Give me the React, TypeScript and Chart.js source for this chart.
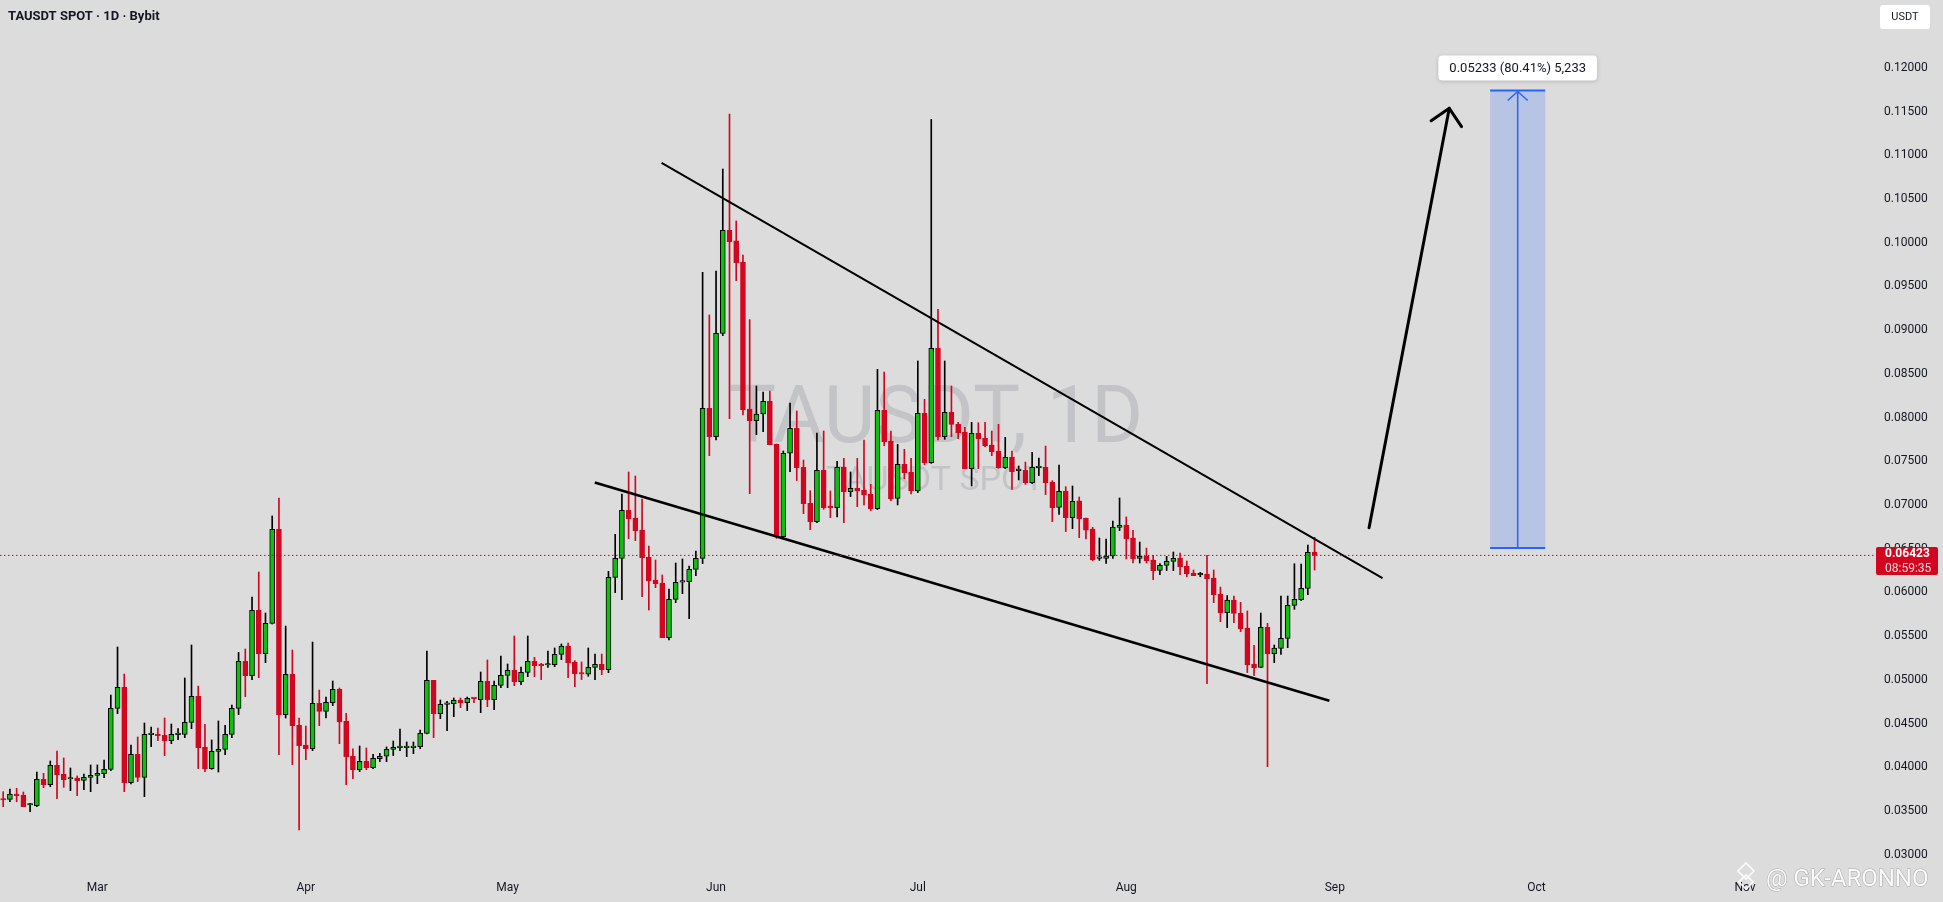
import React, { useEffect, useRef } from 'react';
import { Chart, registerables } from 'chart.js';

Chart.register(...registerables);

const W = 1943;
const H = 902;
const BG = '#dcdcdc';
const GREEN = '#0fbf0f';
const RED = '#d2061e';
const TEXT = '#131722';

// Daily candles, index 0 = Feb 15
const opens = [
  0.03633, 0.03633, 0.03690, 0.03682, 0.03568, 0.03560, 0.03861, 0.03800, 0.04022, 0.03919,
  0.03865, 0.03877, 0.03850, 0.03884, 0.03907, 0.03926, 0.03976, 0.04674, 0.04914, 0.03823,
  0.04147, 0.03884, 0.04372, 0.04380, 0.04365, 0.04303, 0.04372, 0.04376, 0.04513, 0.04811,
  0.04228, 0.03984, 0.04182, 0.04205, 0.04376, 0.04674, 0.05211, 0.05047, 0.05795, 0.05299,
  0.05646, 0.06721, 0.04601, 0.05063, 0.04479, 0.04250, 0.04212, 0.04731, 0.04639, 0.04738,
  0.04891, 0.04525, 0.04125, 0.03972, 0.04067, 0.03995, 0.04098, 0.04125, 0.04205, 0.04224,
  0.04224, 0.04224, 0.04235, 0.04388, 0.04994, 0.04613, 0.04719, 0.04727, 0.04769, 0.04738,
  0.04788, 0.04773, 0.04982, 0.04773, 0.04937, 0.05051, 0.05108, 0.04979, 0.05085, 0.05211,
  0.05169, 0.05169, 0.05173, 0.05291, 0.05387, 0.05204, 0.05074, 0.05063, 0.05143, 0.05177,
  0.05116, 0.06172, 0.06389, 0.06939, 0.06851, 0.06714, 0.06404, 0.06141, 0.06107, 0.05482,
  0.05920, 0.06118, 0.06122, 0.06263, 0.06389, 0.08105, 0.07781, 0.08963, 0.10141, 0.10020,
  0.09779, 0.08098, 0.07964, 0.08040, 0.08185, 0.07697, 0.06637, 0.07591, 0.07876, 0.07431,
  0.07019, 0.06809, 0.07396, 0.06973, 0.06969, 0.07431, 0.07152, 0.07190, 0.07167, 0.07122,
  0.06958, 0.08082, 0.07731, 0.07076, 0.07465, 0.07373, 0.07160, 0.08048, 0.07484, 0.08792,
  0.07781, 0.08059, 0.07922, 0.07834, 0.07415, 0.07819, 0.07762, 0.07686, 0.07617, 0.07427,
  0.07545, 0.07392, 0.07396, 0.07255, 0.07427, 0.07431, 0.07263, 0.06973, 0.07160, 0.06855,
  0.07046, 0.06851, 0.06725, 0.06389, 0.06389, 0.06416, 0.06744, 0.06771, 0.06622, 0.06389,
  0.06416, 0.06370, 0.06252, 0.06309, 0.06355, 0.06393, 0.06302, 0.06221, 0.06202, 0.06210,
  0.06164, 0.05981, 0.05768, 0.05913, 0.05764, 0.05593, 0.05181, 0.05143, 0.05600, 0.05299,
  0.05360, 0.05474, 0.05852, 0.05917, 0.06046, 0.06462,
];

const highs = [
  0.03720, 0.03751, 0.03759, 0.03717, 0.03587, 0.03945, 0.03930, 0.04071, 0.04186, 0.04106,
  0.03991, 0.03900, 0.03922, 0.04026, 0.04026, 0.04083, 0.04826, 0.05375, 0.05066, 0.04254,
  0.04346, 0.04506, 0.04460, 0.04449, 0.04563, 0.04494, 0.04441, 0.05021, 0.05398, 0.04928,
  0.04491, 0.04312, 0.04529, 0.04479, 0.04712, 0.05314, 0.05352, 0.05947, 0.06233, 0.05764,
  0.06874, 0.07080, 0.05615, 0.05341, 0.04563, 0.04471, 0.05432, 0.04883, 0.04803, 0.04986,
  0.04906, 0.04616, 0.04209, 0.04243, 0.04220, 0.04148, 0.04159, 0.04232, 0.04300, 0.04437,
  0.04289, 0.04289, 0.04426, 0.05329, 0.04994, 0.04769, 0.04754, 0.04792, 0.04792, 0.04803,
  0.04788, 0.05089, 0.05227, 0.04986, 0.05272, 0.05181, 0.05501, 0.05146, 0.05501, 0.05257,
  0.05188, 0.05329, 0.05364, 0.05410, 0.05421, 0.05219, 0.05204, 0.05364, 0.05295, 0.05295,
  0.06241, 0.06664, 0.07125, 0.07377, 0.07331, 0.07068, 0.06530, 0.06370, 0.06199, 0.06039,
  0.06336, 0.06382, 0.06301, 0.06473, 0.09661, 0.09173, 0.09676, 0.10843, 0.11472, 0.10249,
  0.09859, 0.09120, 0.08361, 0.08292, 0.08304, 0.07697, 0.07617, 0.08166, 0.08075, 0.07514,
  0.07163, 0.07823, 0.07846, 0.07160, 0.07499, 0.07533, 0.07377, 0.07533, 0.07743, 0.07236,
  0.08551, 0.08521, 0.07846, 0.07693, 0.07636, 0.07533, 0.08647, 0.08208, 0.11411, 0.09238,
  0.08647, 0.08361, 0.07945, 0.07888, 0.07945, 0.07941, 0.07945, 0.07846, 0.07922, 0.07774,
  0.07617, 0.07446, 0.07491, 0.07602, 0.07537, 0.07674, 0.07278, 0.07457, 0.07209, 0.07217,
  0.07091, 0.06851, 0.06744, 0.06622, 0.06611, 0.06817, 0.07080, 0.06863, 0.06710, 0.06576,
  0.06507, 0.06423, 0.06328, 0.06412, 0.06462, 0.06450, 0.06359, 0.06256, 0.06229, 0.06423,
  0.06256, 0.06061, 0.05962, 0.05958, 0.05886, 0.05787, 0.05394, 0.05764, 0.05646, 0.05398,
  0.05958, 0.05958, 0.06328, 0.06325, 0.06542, 0.06630,
];

const lows = [
  0.03549, 0.03606, 0.03606, 0.03549, 0.03492, 0.03549, 0.03766, 0.03777, 0.03640, 0.03770,
  0.03732, 0.03675, 0.03743, 0.03720, 0.03812, 0.03880, 0.03961, 0.04613, 0.03720, 0.03808,
  0.03835, 0.03663, 0.04235, 0.04303, 0.04132, 0.04269, 0.04315, 0.04338, 0.04441, 0.03984,
  0.03949, 0.03976, 0.03945, 0.04143, 0.04338, 0.04601, 0.04807, 0.05001, 0.05024, 0.05196,
  0.05638, 0.04143, 0.04563, 0.04029, 0.03282, 0.04086, 0.04190, 0.04475, 0.04563, 0.04704,
  0.04269, 0.03800, 0.03869, 0.03949, 0.03972, 0.03984, 0.04064, 0.04064, 0.04133, 0.04190,
  0.04121, 0.04155, 0.04212, 0.04380, 0.04338, 0.04555, 0.04418, 0.04578, 0.04681, 0.04647,
  0.04738, 0.04624, 0.04692, 0.04658, 0.04910, 0.04910, 0.04933, 0.04944, 0.05036, 0.05036,
  0.05002, 0.05143, 0.05150, 0.05230, 0.05024, 0.04921, 0.05002, 0.05040, 0.05002, 0.05059,
  0.05082, 0.05997, 0.05917, 0.06614, 0.06592, 0.05951, 0.05798, 0.06054, 0.05482, 0.05455,
  0.05882, 0.05985, 0.05699, 0.06191, 0.06328, 0.07564, 0.07743, 0.08937, 0.07987, 0.09566,
  0.08029, 0.07129, 0.07804, 0.07838, 0.07689, 0.06618, 0.06618, 0.07381, 0.07279, 0.06900,
  0.06718, 0.06798, 0.06950, 0.06855, 0.06863, 0.06798, 0.07095, 0.06981, 0.07000, 0.06935,
  0.06946, 0.07678, 0.07049, 0.07000, 0.07300, 0.07125, 0.07141, 0.07461, 0.07476, 0.07743,
  0.07751, 0.07781, 0.07758, 0.07415, 0.07217, 0.07415, 0.07667, 0.07564, 0.07419, 0.07415,
  0.07179, 0.07286, 0.07236, 0.07243, 0.07335, 0.07118, 0.06809, 0.06893, 0.06695, 0.06729,
  0.06626, 0.06611, 0.06363, 0.06366, 0.06332, 0.06389, 0.06706, 0.06382, 0.06336, 0.06336,
  0.06336, 0.06145, 0.06202, 0.06248, 0.06248, 0.06202, 0.06179, 0.06191, 0.06179, 0.04956,
  0.05882, 0.05665, 0.05596, 0.05653, 0.05550, 0.05082, 0.05047, 0.05139, 0.04006, 0.05196,
  0.05291, 0.05368, 0.05806, 0.05905, 0.05974, 0.06256,
];

const closes = [
  0.03625, 0.03694, 0.03675, 0.03549, 0.03576, 0.03861, 0.03800, 0.04022, 0.03915, 0.03858,
  0.03873, 0.03846, 0.03884, 0.03907, 0.03930, 0.03976, 0.04674, 0.04914, 0.03823, 0.04147,
  0.03884, 0.04376, 0.04380, 0.04361, 0.04303, 0.04376, 0.04380, 0.04513, 0.04811, 0.04224,
  0.03984, 0.04182, 0.04205, 0.04376, 0.04674, 0.05211, 0.05047, 0.05795, 0.05299, 0.05646,
  0.06721, 0.04601, 0.05063, 0.04475, 0.04246, 0.04212, 0.04731, 0.04639, 0.04742, 0.04891,
  0.04517, 0.04121, 0.03972, 0.04067, 0.03995, 0.04102, 0.04125, 0.04205, 0.04228, 0.04232,
  0.04232, 0.04239, 0.04388, 0.04994, 0.04613, 0.04719, 0.04727, 0.04765, 0.04738, 0.04788,
  0.04784, 0.04982, 0.04773, 0.04937, 0.05051, 0.05108, 0.04979, 0.05085, 0.05211, 0.05162,
  0.05162, 0.05177, 0.05291, 0.05387, 0.05196, 0.05070, 0.05066, 0.05143, 0.05177, 0.05116,
  0.06172, 0.06389, 0.06939, 0.06843, 0.06706, 0.06397, 0.06134, 0.06099, 0.05482, 0.05920,
  0.06115, 0.06126, 0.06263, 0.06389, 0.08105, 0.07781, 0.08963, 0.10141, 0.10012, 0.09772,
  0.08086, 0.07964, 0.08040, 0.08185, 0.07689, 0.06633, 0.07591, 0.07876, 0.07427, 0.07015,
  0.06809, 0.07396, 0.06969, 0.06969, 0.07431, 0.07152, 0.07190, 0.07160, 0.07114, 0.06958,
  0.08082, 0.07724, 0.07068, 0.07465, 0.07369, 0.07160, 0.08048, 0.07484, 0.08792, 0.07781,
  0.08059, 0.07922, 0.07827, 0.07415, 0.07819, 0.07758, 0.07674, 0.07610, 0.07427, 0.07545,
  0.07381, 0.07400, 0.07255, 0.07431, 0.07434, 0.07255, 0.06969, 0.07156, 0.06855, 0.07042,
  0.06843, 0.06713, 0.06370, 0.06393, 0.06416, 0.06748, 0.06771, 0.06614, 0.06386, 0.06416,
  0.06363, 0.06248, 0.06309, 0.06355, 0.06389, 0.06294, 0.06214, 0.06191, 0.06210, 0.06157,
  0.05974, 0.05768, 0.05913, 0.05760, 0.05585, 0.05169, 0.05139, 0.05600, 0.05295, 0.05364,
  0.05474, 0.05852, 0.05921, 0.06046, 0.06458, 0.06423,
];

// Time axis: month starts (day index from Feb 15)
const monthTickIdx = [14, 45, 75, 106, 136, 167, 198, 228, 259];
const monthTickLabels = ['Mar', 'Apr', 'May', 'Jun', 'Jul', 'Aug', 'Sep', 'Oct', 'Nov'];

// Price axis ticks
const priceTicks = [
  0.03, 0.035, 0.04, 0.045, 0.05, 0.055, 0.06, 0.065, 0.07, 0.075,
  0.08, 0.085, 0.09, 0.095, 0.1, 0.105, 0.11, 0.115, 0.12,
];

// Drawings (day index, price)
const upperTrend = [{ x: 97.9, y: 0.10912 }, { x: 205.1, y: 0.06163 }];
const lowerTrend = [{ x: 87.97, y: 0.07258 }, { x: 197.2, y: 0.0476 }];
const arrowLine = [{ x: 203.1, y: 0.06739 }, { x: 215.03, y: 0.11537 }];
const posX = [221.1, 229.3];
const posPrices = [0.06508, 0.11741];
const posLabel = '0.05233 (80.41%) 5,233';
const lastPrice = 0.06423;
const countdown = '08:59:35';

const X_MIN = -0.476;
const X_MAX = 278.63;
const Y_MIN = 0.028014;
const Y_MAX = 0.127762;

function rr(ctx: CanvasRenderingContext2D, x: number, y: number, w: number, h: number, r: number) {
  ctx.beginPath();
  ctx.moveTo(x + r, y);
  ctx.lineTo(x + w - r, y);
  ctx.quadraticCurveTo(x + w, y, x + w, y + r);
  ctx.lineTo(x + w, y + h - r);
  ctx.quadraticCurveTo(x + w, y + h, x + w - r, y + h);
  ctx.lineTo(x + r, y + h);
  ctx.quadraticCurveTo(x, y + h, x, y + h - r);
  ctx.lineTo(x, y + r);
  ctx.quadraticCurveTo(x, y, x + r, y);
  ctx.closePath();
}

const overlay = {
  id: 'overlay',
  beforeDraw(chart: any) {
    const ctx = chart.ctx as CanvasRenderingContext2D;
    ctx.save();
    ctx.fillStyle = BG;
    ctx.fillRect(0, 0, chart.width, chart.height);
    ctx.restore();
  },
  beforeDatasetsDraw(chart: any) {
    const ctx = chart.ctx as CanvasRenderingContext2D;
    ctx.save();
    ctx.fillStyle = 'rgba(120,123,134,0.25)';
    ctx.textAlign = 'center';
    ctx.textBaseline = 'alphabetic';
    ctx.font = '79px Roboto';
    ctx.fillText('TAUSDT, 1D', 936, 442);
    ctx.font = '34px Roboto';
    ctx.fillText('TAUSDT SPOT', 935, 490);
    ctx.restore();
  },
  afterDatasetsDraw(chart: any) {
    const ctx = chart.ctx as CanvasRenderingContext2D;
    const xs = chart.scales.x;
    const ys = chart.scales.y;
    ctx.save();
    // arrow head of the black arrow
    const tx = xs.getPixelForValue(arrowLine[1].x);
    const ty = ys.getPixelForValue(arrowLine[1].y);
    const sx = xs.getPixelForValue(arrowLine[0].x);
    const sy = ys.getPixelForValue(arrowLine[0].y);
    const ang = Math.atan2(sy - ty, sx - tx);
    const len = 22;
    const spread = 0.78;
    ctx.strokeStyle = '#000';
    ctx.lineWidth = 3;
    ctx.lineCap = 'round';
    ctx.lineJoin = 'round';
    ctx.beginPath();
    ctx.moveTo(tx + len * Math.cos(ang + spread), ty + len * Math.sin(ang + spread));
    ctx.lineTo(tx, ty);
    ctx.lineTo(tx + len * Math.cos(ang - spread), ty + len * Math.sin(ang - spread));
    ctx.stroke();

    // long position tool
    const x1 = xs.getPixelForValue(posX[0]);
    const x2 = xs.getPixelForValue(posX[1]);
    const yb = ys.getPixelForValue(posPrices[0]);
    const yt = ys.getPixelForValue(posPrices[1]);
    ctx.fillStyle = 'rgba(41,98,255,0.2)';
    ctx.fillRect(x1, yt, x2 - x1, yb - yt);
    ctx.strokeStyle = '#2962ff';
    ctx.lineCap = 'butt';
    ctx.lineWidth = 2;
    ctx.beginPath();
    ctx.moveTo(x1, yt);
    ctx.lineTo(x2, yt);
    ctx.moveTo(x1, yb);
    ctx.lineTo(x2, yb);
    ctx.stroke();
    const xc = (x1 + x2) / 2;
    ctx.lineWidth = 1.5;
    ctx.beginPath();
    ctx.moveTo(xc, yb);
    ctx.lineTo(xc, yt + 1);
    ctx.moveTo(xc - 10, yt + 10);
    ctx.lineTo(xc, yt + 1);
    ctx.lineTo(xc + 10, yt + 10);
    ctx.stroke();

    // label
    ctx.font = '13px Roboto';
    const tw = ctx.measureText(posLabel).width;
    const bw = tw + 22;
    const bh = 25;
    const by = yt - 35;
    ctx.shadowColor = 'rgba(0,0,0,0.18)';
    ctx.shadowBlur = 4;
    ctx.shadowOffsetY = 1;
    ctx.fillStyle = '#ffffff';
    rr(ctx, xc - bw / 2, by, bw, bh, 4);
    ctx.fill();
    ctx.shadowColor = 'transparent';
    ctx.fillStyle = TEXT;
    ctx.textAlign = 'center';
    ctx.textBaseline = 'middle';
    ctx.fillText(posLabel, xc, by + bh / 2 + 0.5);
    ctx.restore();
  },
  afterDraw(chart: any) {
    const ctx = chart.ctx as CanvasRenderingContext2D;
    const ys = chart.scales.y;
    const area = chart.chartArea;
    ctx.save();
    // last price label
    const py = ys.getPixelForValue(lastPrice);
    ctx.fillStyle = RED;
    rr(ctx, area.right - 1, py - 8.5, 62, 28, 2);
    ctx.fill();
    ctx.textAlign = 'left';
    ctx.textBaseline = 'middle';
    ctx.fillStyle = '#ffffff';
    ctx.font = 'bold 12px Roboto';
    ctx.fillText(lastPrice.toFixed(5), area.right + 8, py - 1);
    ctx.fillStyle = 'rgba(255,255,255,0.85)';
    ctx.font = '12px Roboto';
    ctx.fillText(countdown, area.right + 8, py + 13.5);

    // currency box
    ctx.fillStyle = '#ffffff';
    rr(ctx, 1880, 5, 50, 24, 3);
    ctx.fill();
    ctx.fillStyle = TEXT;
    ctx.font = '11px Roboto';
    ctx.textAlign = 'center';
    ctx.fillText('USDT', 1905, 17.5);

    // header
    ctx.textAlign = 'left';
    ctx.font = 'bold 13px Roboto';
    ctx.fillStyle = TEXT;
    ctx.fillText('TAUSDT SPOT \u00b7 1D \u00b7 Bybit', 8, 17);

    // author watermark
    ctx.strokeStyle = 'rgba(255,255,255,0.9)';
    ctx.lineWidth = 1.6;
    const lx = 1746;
    const ly = 877;
    ctx.beginPath();
    ctx.moveTo(lx, ly - 14);
    ctx.lineTo(lx + 8, ly - 6);
    ctx.lineTo(lx, ly + 2);
    ctx.lineTo(lx - 8, ly - 6);
    ctx.closePath();
    ctx.moveTo(lx, ly - 2);
    ctx.lineTo(lx + 7, ly + 5);
    ctx.lineTo(lx, ly + 12);
    ctx.lineTo(lx - 7, ly + 5);
    ctx.closePath();
    ctx.stroke();
    ctx.font = '24px Roboto';
    ctx.textBaseline = 'alphabetic';
    ctx.fillStyle = 'rgba(255,255,255,0.92)';
    ctx.strokeStyle = 'rgba(130,130,130,0.55)';
    ctx.lineWidth = 1;
    ctx.strokeText('@ GK-ARONNO', 1766, 886);
    ctx.fillText('@ GK-ARONNO', 1766, 886);
    ctx.restore();
  },
};

export default function App() {
  const ref = useRef<HTMLCanvasElement | null>(null);

  useEffect(() => {
    const canvas = ref.current;
    if (!canvas) return;
    const idx = opens.map((_, i) => i);
    const up = idx.map((i) => closes[i] >= opens[i]);

    const chart = new Chart(canvas, {
      type: 'bar',
      data: {
        datasets: [
          {
            type: 'line',
            data: [{ x: X_MIN, y: lastPrice }, { x: X_MAX, y: lastPrice }],
            borderColor: RED,
            borderWidth: 1,
            borderDash: [1.5, 2.5],
            pointRadius: 0,
            fill: false,
            order: -3,
          } as any,
          {
            type: 'line',
            data: upperTrend,
            borderColor: '#000',
            borderWidth: 2,
            pointRadius: 0,
            fill: false,
            tension: 0,
            order: -2,
          } as any,
          {
            type: 'line',
            data: lowerTrend,
            borderColor: '#000',
            borderWidth: 2.6,
            pointRadius: 0,
            fill: false,
            tension: 0,
            order: -2,
          } as any,
          {
            type: 'line',
            data: arrowLine,
            borderColor: '#000',
            borderWidth: 3,
            pointRadius: 0,
            fill: false,
            tension: 0,
            borderCapStyle: 'round',
            order: -2,
          } as any,
          {
            type: 'bar',
            data: idx.map((i) => ({ x: i, y: [opens[i], closes[i]] })),
            backgroundColor: idx.map((i) => (up[i] ? GREEN : RED)),
            borderColor: idx.map((i) => (up[i] ? '#000' : RED)),
            borderWidth: 1,
            borderSkipped: false,
            grouped: false,
            maxBarThickness: 5,
            barPercentage: 1,
            categoryPercentage: 1,
            minBarLength: 1.5,
            order: 1,
          } as any,
          {
            type: 'bar',
            data: idx.map((i) => ({ x: i, y: [lows[i], highs[i]] })),
            backgroundColor: idx.map((i) => (up[i] ? '#000' : RED)),
            borderWidth: 0,
            grouped: false,
            maxBarThickness: 1,
            barPercentage: 1,
            categoryPercentage: 1,
            order: 2,
          } as any,
        ],
      },
      options: {
        responsive: false,
        maintainAspectRatio: false,
        devicePixelRatio: 1,
        animation: false,
        events: [],
        layout: { padding: 0 },
        plugins: {
          legend: { display: false },
          tooltip: { enabled: false },
          title: { display: false },
        },
        scales: {
          x: {
            type: 'linear',
            min: X_MIN,
            max: X_MAX,
            offset: false,
            grid: { display: false, drawTicks: false },
            border: { display: false },
            ticks: {
              autoSkip: false,
              maxRotation: 0,
              padding: 9,
              color: TEXT,
              font: { family: 'Roboto', size: 12 },
              callback: (_v: any, i: number) => monthTickLabels[i],
            },
            afterBuildTicks: (s: any) => {
              s.ticks = monthTickIdx.map((v) => ({ value: v }));
            },
            afterFit: (s: any) => {
              s.height = 30;
              s.paddingLeft = 0;
              s.paddingRight = 0;
            },
          },
          y: {
            type: 'linear',
            position: 'right',
            min: Y_MIN,
            max: Y_MAX,
            beginAtZero: false,
            grid: { display: false, drawTicks: false },
            border: { display: false },
            ticks: {
              padding: 7,
              color: TEXT,
              font: { family: 'Roboto', size: 12 },
              callback: (v: any) => Number(v).toFixed(5),
            },
            afterBuildTicks: (s: any) => {
              s.ticks = priceTicks.map((v) => ({ value: v }));
            },
            afterFit: (s: any) => {
              s.width = 66;
              s.paddingTop = 0;
              s.paddingBottom = 0;
            },
          },
        },
      } as any,
      plugins: [overlay as any],
    });

    return () => {
      chart.destroy();
    };
  }, []);

  return (
    <div style={{ position: 'fixed', left: 0, top: 0, width: W, height: H, background: BG }}>
      <canvas ref={ref} width={W} height={H} style={{ display: 'block', width: W, height: H }} />
    </div>
  );
}
